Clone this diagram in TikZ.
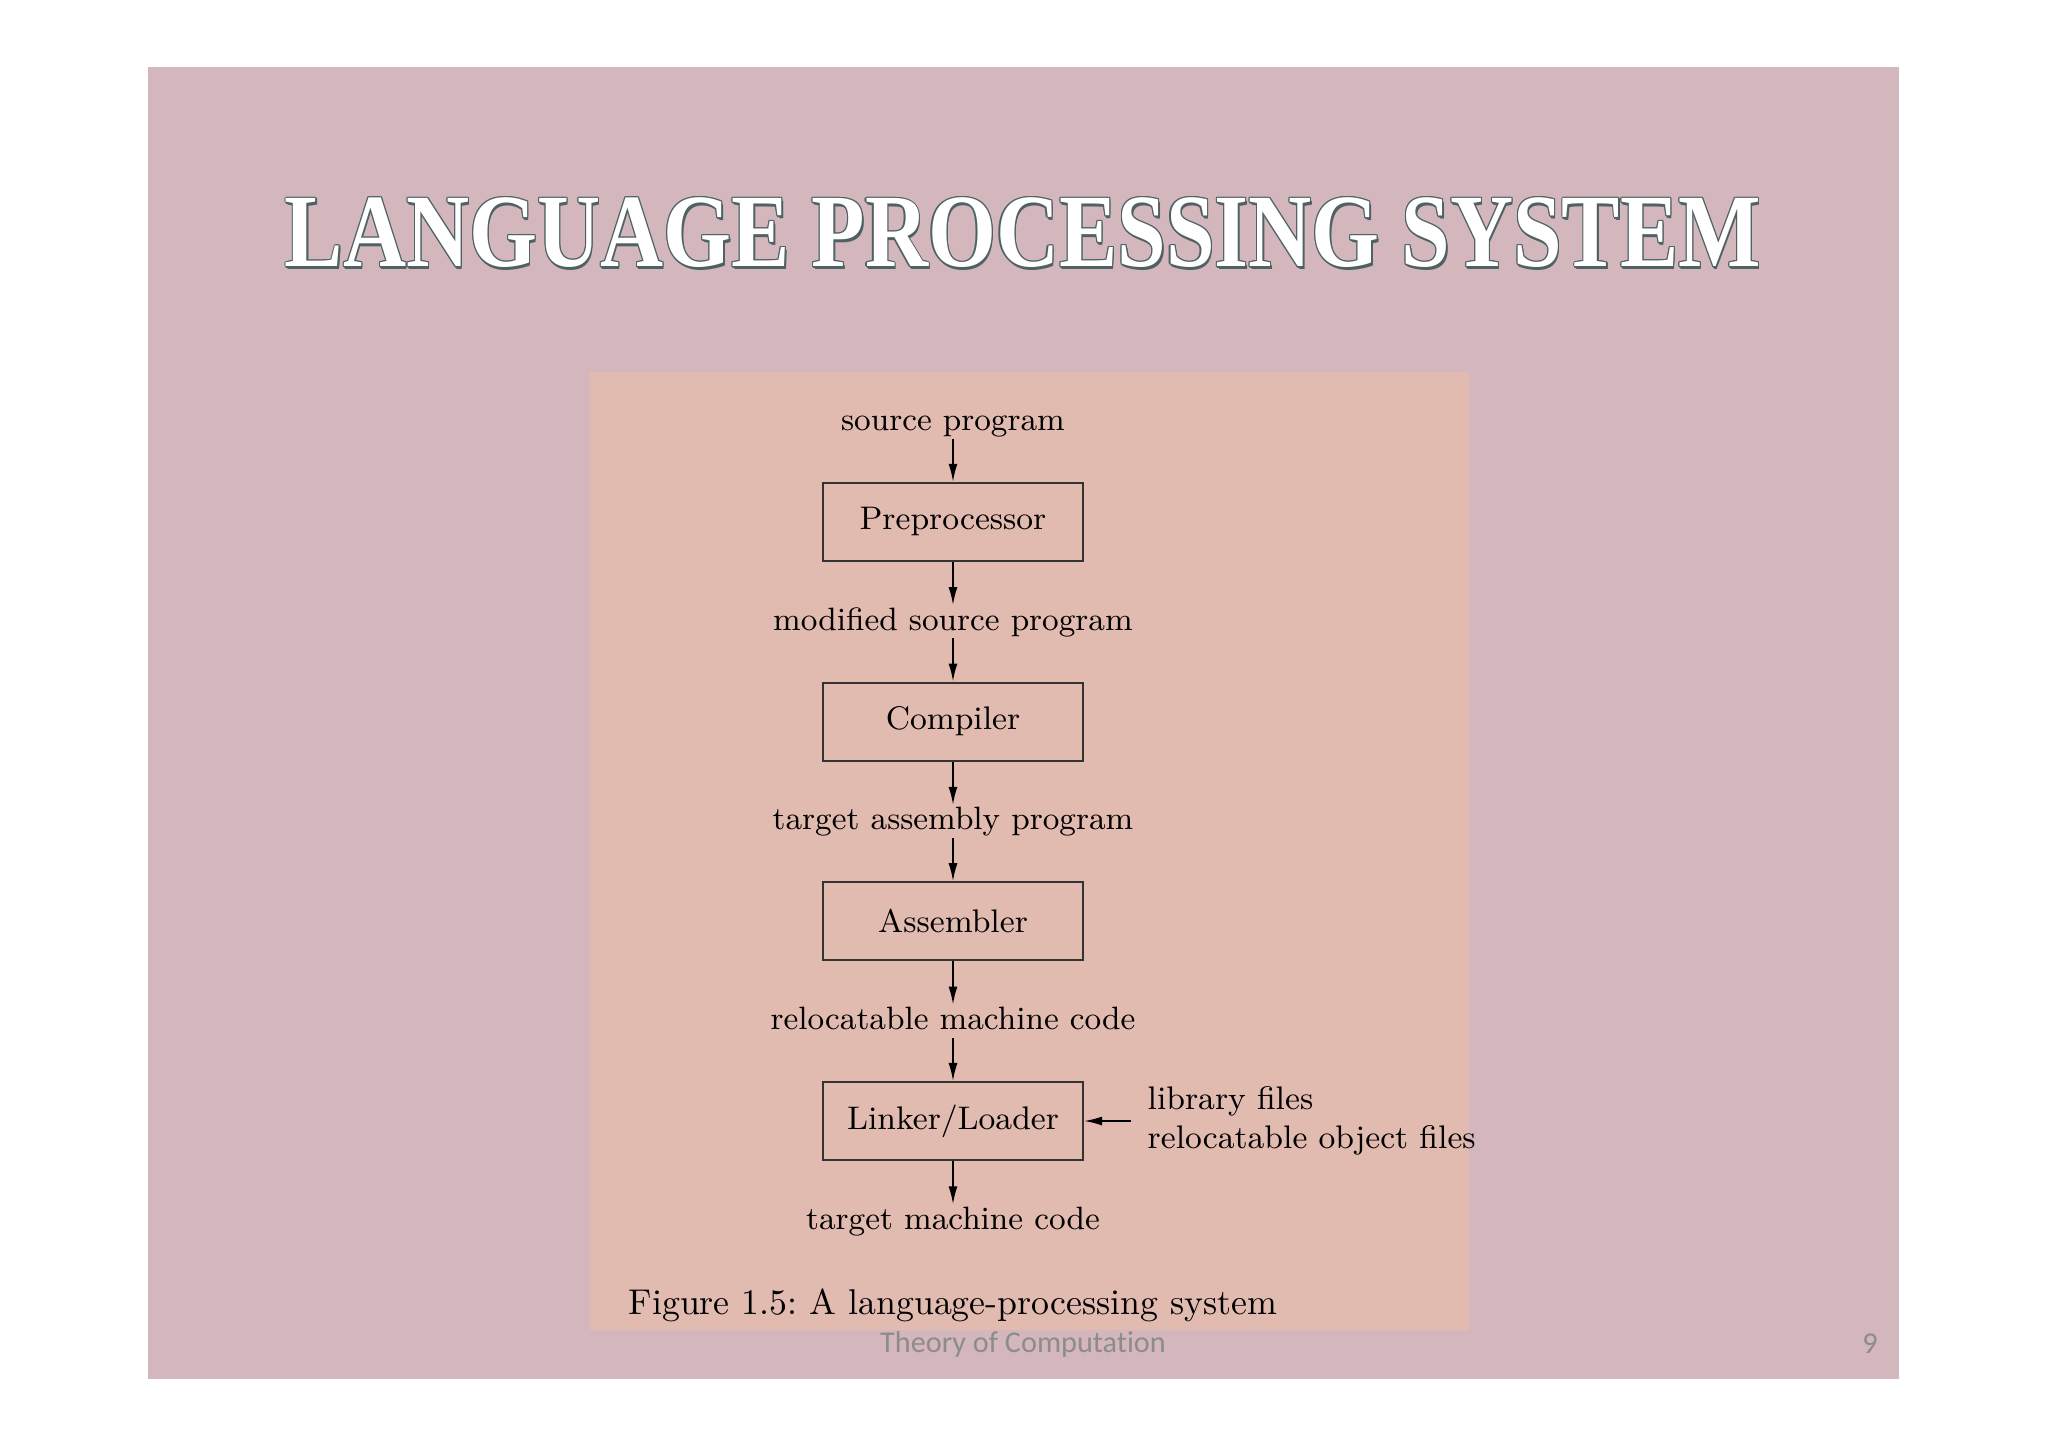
\documentclass[tikz,border=0pt]{standalone}
\usepackage{fontspec}
\newfontfamily\titlefont{Liberation Serif}
\newfontfamily\footfont[Ligatures=NoCommon]{Carlito}
\usepackage{xcolor}
\definecolor{slidebg}{RGB}{212,182,189}
\definecolor{panelbg}{RGB}{226,187,176}
\definecolor{titleedge}{RGB}{78,98,100}
\definecolor{footgray}{RGB}{140,140,140}
\usepackage{tikz}
\usetikzlibrary{arrows.meta, positioning}

\begin{document}
\begin{tikzpicture}[
  node distance=0.432cm,
  procbox/.style={rectangle, draw=black!80, line width=0.6pt, minimum width=2.6cm,
                  minimum height=0.78cm, font=\fontsize{9.3}{11}\selectfont},
  flowlbl/.style={inner sep=0pt, text height=1.6ex, text depth=0.5ex,
                  font=\fontsize{9.2}{11}\selectfont},
  titletext/.style={font=\titlefont\bfseries\fontsize{29.6}{32}\selectfont, xscale=0.84},
  arrow/.style={-{Latex[length=1.8mm, width=0.9mm]}, line width=0.5pt}
]
\useasboundingbox (0,0) rectangle (20.48,14.47);
% slide and figure panel
\fill[slidebg] (1.48,0.68) rectangle (18.99,13.80);
\fill[panelbg] (5.90,1.17) rectangle (14.69,10.75);
% title with outline
\foreach \dx/\dy [count=\k] in {0.5/-0.7, 0.4/0, -0.4/0, 0/0.4, 0/-0.4, 0.3/0.3, -0.3/-0.3, 0.3/-0.3, -0.3/0.3}
  \node[titletext, text=titleedge, xshift=\dx pt, yshift=\dy pt] (ttlshade\k) at (10.23,12.14) {LANGUAGE PROCESSING SYSTEM};
\node[titletext, text=white] (title) at (10.23,12.14) {LANGUAGE PROCESSING SYSTEM};

\node[flowlbl] (src) at (9.53,10.25) {source program};
\node[procbox, below=of src] (pre) {Preprocessor};
\node[flowlbl, below=of pre] (msrc) {modified source program};
\node[procbox, below=of msrc] (comp) {Compiler};
\node[flowlbl, below=of comp] (asmprog) {target assembly program};
\node[procbox, below=of asmprog] (asm) {Assembler};
\node[flowlbl, below=of asm] (reloc) {relocatable machine code};
\node[procbox, below=of reloc] (link) {Linker/Loader};
\node[flowlbl, below=of link] (tmc) {target machine code};
\node[anchor=west, inner sep=0pt, align=left, font=\fontsize{9.3}{11.1}\selectfont]
  (libs) at (link.east -| 11.47,0) {library files\\relocatable object files};
\draw[arrow] (src) -- (pre);
\draw[arrow] (pre) -- (msrc);
\draw[arrow] (msrc) -- (comp);
\draw[arrow] (comp) -- (asmprog);
\draw[arrow] (asmprog) -- (asm);
\draw[arrow] (asm) -- (reloc);
\draw[arrow] (reloc) -- (link);
\draw[arrow] (link) -- (tmc);
\draw[arrow, shorten <=0.16cm] (libs.west) -- (link.east);

\node[anchor=west, inner sep=0pt, font=\fontsize{10.2}{12}\selectfont] (caption) at (6.28,1.42)
  {Figure 1.5:\ A language-processing system};
% footer
\node[font=\footfont\fontsize{8.6}{10}\selectfont, text=footgray] (footer) at (10.23,1.03) {Theory of Computation};
\node[font=\footfont\fontsize{8.6}{10}\selectfont, text=footgray] (pagenum) at (18.70,1.03) {9};
\end{tikzpicture}
\end{document}
